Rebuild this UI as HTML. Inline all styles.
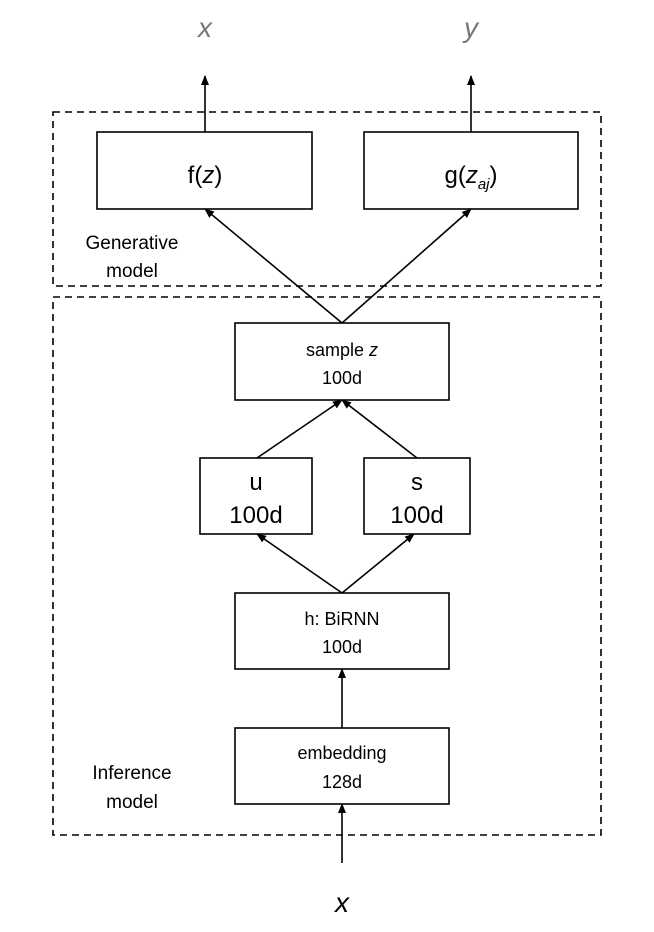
<!DOCTYPE html>
<html><head><meta charset="utf-8"><style>
html,body{margin:0;padding:0;background:#fff;}
svg{display:block;}
text{font-family:"Liberation Sans",Arial,sans-serif;}
</style></head><body>
<svg width="654" height="932" viewBox="0 0 654 932" xmlns="http://www.w3.org/2000/svg">
<defs><marker id="a" markerWidth="10" markerHeight="10" refX="9" refY="5" orient="auto" markerUnits="userSpaceOnUse"><path d="M0,1 L10,5 L0,9 Z" fill="#000"/></marker></defs>
<g fill="none" stroke="#000" stroke-width="1.6">
<rect x="53" y="112" width="548" height="174" stroke-dasharray="7,5"/>
<rect x="53" y="297" width="548" height="538" stroke-dasharray="7,5"/>
<rect x="97" y="132" width="215" height="77"/>
<rect x="364" y="132" width="214" height="77"/>
<rect x="235" y="323" width="214" height="77"/>
<rect x="200" y="458" width="112" height="76"/>
<rect x="364" y="458" width="106" height="76"/>
<rect x="235" y="593" width="214" height="76"/>
<rect x="235" y="728" width="214" height="76"/>
<g marker-end="url(#a)">
<line x1="205" y1="132" x2="205" y2="76"/>
<line x1="471" y1="132" x2="471" y2="76"/>
<line x1="342" y1="323" x2="205" y2="209"/>
<line x1="342" y1="323" x2="471" y2="209"/>
<line x1="257" y1="458" x2="342" y2="400"/>
<line x1="417" y1="458" x2="342" y2="400"/>
<line x1="342" y1="593" x2="257" y2="534"/>
<line x1="342" y1="593" x2="414" y2="534"/>
<line x1="342" y1="728" x2="342" y2="669"/>
<line x1="342" y1="863" x2="342" y2="804"/>
</g></g>
<g text-anchor="middle" fill="#000">
<text x="205" y="37" font-size="28" font-style="italic" fill="#777">x</text>
<text x="471" y="37" font-size="28" font-style="italic" fill="#777">y</text>
<text x="205" y="183" font-size="24">f(<tspan font-style="italic">z</tspan>)</text>
<text x="471" y="183" font-size="24">g(<tspan font-style="italic">z</tspan><tspan font-style="italic" font-size="15" dy="6">aj</tspan><tspan dy="-6">)</tspan></text>
<text x="132" y="249" font-size="19">Generative</text>
<text x="132" y="277" font-size="19">model</text>
<text x="342" y="356" font-size="18">sample <tspan font-style="italic">z</tspan></text>
<text x="342" y="384" font-size="18">100d</text>
<text x="256" y="490" font-size="24">u</text>
<text x="256" y="523" font-size="24">100d</text>
<text x="417" y="490" font-size="24">s</text>
<text x="417" y="523" font-size="24">100d</text>
<text x="342" y="625" font-size="18">h: BiRNN</text>
<text x="342" y="653" font-size="18">100d</text>
<text x="342" y="759" font-size="18">embedding</text>
<text x="342" y="788" font-size="18">128d</text>
<text x="132" y="779" font-size="19">Inference</text>
<text x="132" y="808" font-size="19">model</text>
<text x="342" y="912" font-size="28" font-style="italic">x</text>
</g>
</svg>
</body></html>
